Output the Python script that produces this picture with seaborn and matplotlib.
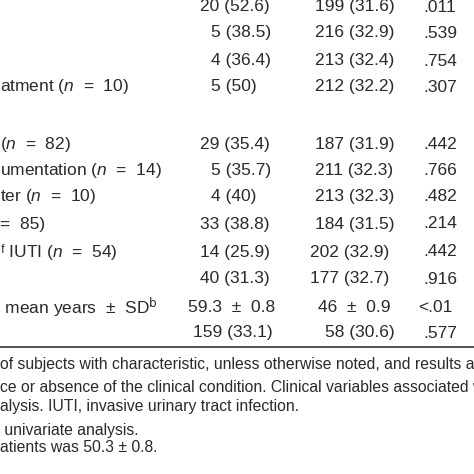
import matplotlib
matplotlib.use('Agg')
import matplotlib.pyplot as plt
import seaborn as sns

sns.set_theme(style='white')
plt.rcParams['font.family'] = ['Liberation Sans', 'DejaVu Sans']
plt.rcParams['mathtext.fontset'] = 'custom'
plt.rcParams['mathtext.it'] = 'Liberation Sans:italic'

labels = ['', '', '', 'atment ($n$  =  10)', '($n$  =  82)', 'umentation ($n$  =  14)',
          'ter ($n$  =  10)', '=  85)', '\u1da0 IUTI ($n$  =  54)', '',
          ' mean years  \u00b1  SD$^{\\mathrm{b}}$', '']
present = ['20 (52.6)', '5 (38.5)', '4 (36.4)', '5 (50)', '29 (35.4)', '5 (35.7)',
           '4 (40)', '33 (38.8)', '14 (25.9)', '40 (31.3)', '59.3  \u00b1  0.8', '159 (33.1)']
absent = ['199 (31.6)', '216 (32.9)', '213 (32.4)', '212 (32.2)', '187 (31.9)', '211 (32.3)',
          '213 (32.3)', '184 (31.5)', '202 (32.9)', '177 (32.7)', '46  \u00b1  0.9', '58 (30.6)']
pvals = ['.011', '.539', '.754', '.307', '.442', '.766', '.482', '.214', '.442', '.916',
         '<.01', '.577']
footnotes = ['of subjects with characteristic, unless otherwise noted, and results are',
             'ce or absence of the clinical condition. Clinical variables associated with',
             'alysis. IUTI, invasive urinary tract infection.',
             ' univariate analysis.',
             'atients was 50.3 \u00b1 0.8.']

row_y = [7, 33, 61, 87, 144, 171, 197, 224, 252, 279, 307, 333]
x1 = [200, 211, 211, 211, 200, 211, 211, 200, 200, 200, 188, 193]
x2 = [315, 315, 315, 315, 315, 315, 315, 315, 310, 310, 318, 325]
x3 = [423] * 10 + [418, 423]
foot_y = [364, 387, 406, 430, 448]

W = H = 474
fig = plt.figure(figsize=(4.74, 4.74), dpi=100)
fig.patch.set_facecolor('white')
col = '#2a2a2a'
fs = 12.5


def put(x, y, s, size=fs):
    fig.text(x / W, 1 - y / H, s, fontsize=size, color=col, ha='left', va='center')


for i, y in enumerate(row_y):
    if labels[i]:
        put(0, y, labels[i])
    put(x1[i], y, present[i])
    put(x2[i], y, absent[i])
    put(x3[i], y, pvals[i])

fig.add_artist(plt.Line2D([0, 1], [1 - 347 / H] * 2, color='#333333', lw=1.2))
for s, y in zip(footnotes, foot_y):
    put(0, y, s, size=11.3)

fig.savefig('out.png', dpi=100, facecolor='white')
